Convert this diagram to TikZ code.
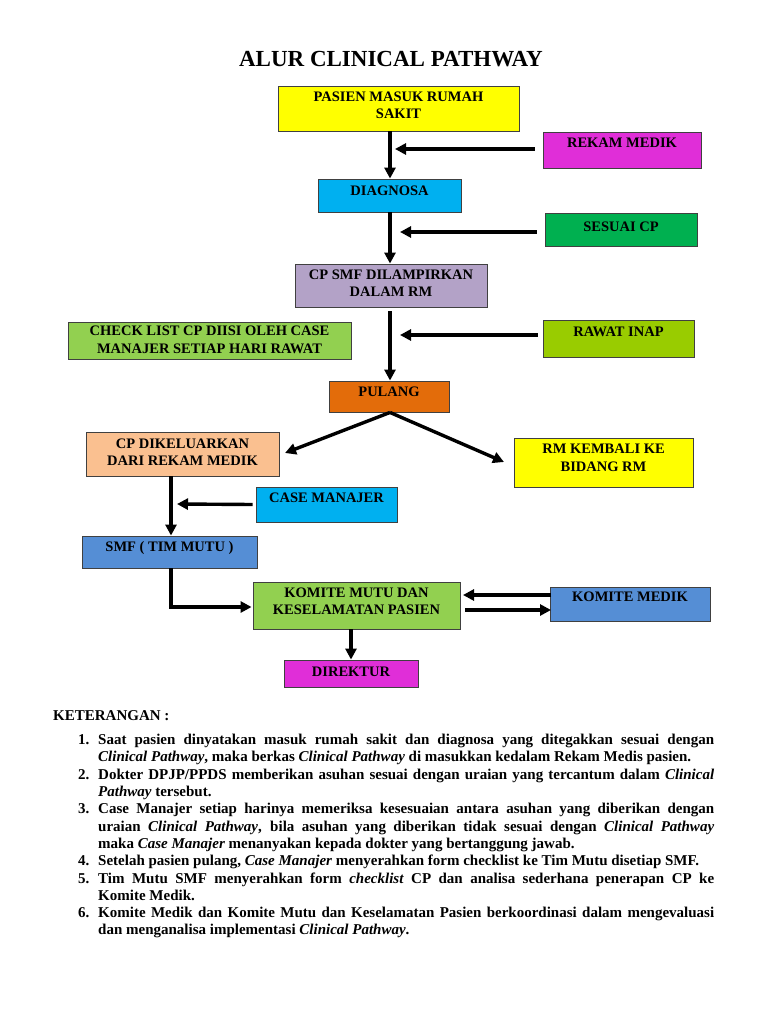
\documentclass[tikz,border=0pt]{standalone}
\usepackage{fontspec}
\setmainfont{Liberation Serif}
\usetikzlibrary{arrows.meta}
\definecolor{cyel}{HTML}{FFFF00}
\definecolor{cmag}{HTML}{E02ED8}
\definecolor{ccyan}{HTML}{00B0F0}
\definecolor{cgrn}{HTML}{00B050}
\definecolor{cpurp}{HTML}{B3A2C7}
\definecolor{clgrn}{HTML}{92D050}
\definecolor{cygrn}{HTML}{99CC00}
\definecolor{corng}{HTML}{E36C0A}
\definecolor{cpeach}{HTML}{FAC090}
\definecolor{cblu}{HTML}{558ED5}
\begin{document}
\begin{tikzpicture}[x=1pt,y=-1pt,
  box/.style={draw=black!75, line width=0.9pt, rectangle, inner sep=0pt},
  lbl/.style={font=\bfseries\fontsize{14.5}{17.5}\selectfont, align=center, inner sep=0pt},
  arr/.style={line width=3.4pt, -{Triangle[length=11pt,width=11pt]}}
]
\useasboundingbox (0,0) rectangle (768,1024);
\fill[white] (0,0) rectangle (768,1024);

\node[font=\bfseries\fontsize{23}{27}\selectfont, inner sep=0pt] (title) at (391,59) {ALUR CLINICAL PATHWAY};

% boxes
\node[box, fill=cyel, minimum width=241pt, minimum height=45pt] (pasien) at (398.5,108.5) {};
\node[lbl] (pasienT) at (398.5,105.5) {PASIEN MASUK RUMAH\\SAKIT};
\node[box, fill=cmag, minimum width=158pt, minimum height=36pt] (rekam) at (622,150) {};
\node[lbl] (rekamT) at (622,143) {REKAM MEDIK};
\node[box, fill=ccyan, minimum width=143pt, minimum height=33pt] (diag) at (389.5,195.5) {};
\node[lbl] (diagT) at (389.5,191) {DIAGNOSA};
\node[box, fill=cgrn, minimum width=152pt, minimum height=33pt] (sesuai) at (621,229.5) {};
\node[lbl] (sesuaiT) at (621,227) {SESUAI CP};
\node[box, fill=cpurp, minimum width=192pt, minimum height=43pt] (cpsmf) at (391,285.5) {};
\node[lbl] (cpsmfT) at (391,283) {CP SMF DILAMPIRKAN\\DALAM RM};
\node[box, fill=clgrn, minimum width=283pt, minimum height=37pt] (check) at (209.5,340.5) {};
\node[lbl] (checkT) at (209.5,340) {CHECK LIST CP DIISI OLEH CASE\\MANAJER SETIAP HARI RAWAT};
\node[box, fill=cygrn, minimum width=151pt, minimum height=37pt] (rawat) at (618.5,338.5) {};
\node[lbl] (rawatT) at (618.5,332) {RAWAT INAP};
\node[box, fill=corng, minimum width=120pt, minimum height=31pt] (pulang) at (389,396.5) {};
\node[lbl] (pulangT) at (389,392) {PULANG};
\node[box, fill=cpeach, minimum width=193pt, minimum height=44pt] (cpkel) at (182.5,454) {};
\node[lbl] (cpkelT) at (182.5,452) {CP DIKELUARKAN\\DARI REKAM MEDIK};
\node[box, fill=cyel, minimum width=179pt, minimum height=49pt] (rmkem) at (603.5,462.5) {};
\node[lbl] (rmkemT) at (603.5,458) {RM KEMBALI KE\\BIDANG RM};
\node[box, fill=ccyan, minimum width=141pt, minimum height=35pt] (casem) at (326.5,504.5) {};
\node[lbl] (casemT) at (326.5,498) {CASE MANAJER};
\node[box, fill=cblu, minimum width=175pt, minimum height=32pt] (smf) at (169.5,552) {};
\node[lbl] (smfT) at (169.5,548) {SMF ( TIM MUTU )};
\node[box, fill=clgrn, minimum width=207pt, minimum height=47pt] (komite) at (356.5,605.5) {};
\node[lbl] (komiteT) at (356.5,601.5) {KOMITE MUTU DAN\\KESELAMATAN PASIEN};
\node[box, fill=cblu, minimum width=160pt, minimum height=34pt] (medik) at (630,604) {};
\node[lbl] (medikT) at (630,597) {KOMITE MEDIK};
\node[box, fill=cmag, minimum width=134pt, minimum height=27pt] (direktur) at (351,673.5) {};
\node[lbl] (direkturT) at (351,672) {DIREKTUR};

% helper coordinates
\coordinate (xm) at (390,0);
\coordinate (xl) at (171,0);
\coordinate (e1) at (395,149);
\coordinate (e2) at (400,232);
\coordinate (e3) at (400,335);
\coordinate (e4) at (285,453);
\coordinate (e5) at (504,462);
\coordinate (e6) at (177,504);
\coordinate (e7) at (463,595);
\coordinate (e8) at (551,610);
\coordinate (s8) at (465,610);
\coordinate (s7) at (551,595);

% connectors
\draw[arr] (pasien.south -| xm) -- (diag.north -| xm);
\draw[arr] ([xshift=-8pt,yshift=1pt]rekam.west) -- (e1);
\draw[arr] (diag.south -| xm) -- (cpsmf.north -| xm);
\draw[arr] ([xshift=-8pt,yshift=-2.5pt]sesuai.west) -- (e2);
\draw[arr, shorten <=4pt] (cpsmf.south -| xm) -- (pulang.north -| xm);
\draw[arr] ([xshift=-5pt,yshift=3.5pt]rawat.west) -- (e3);
\draw[arr] (pulang.south -| xm) -- (e4);
\draw[arr] (pulang.south -| xm) -- (e5);
\draw[arr] (cpkel.south -| xl) -- (smf.north -| xl);
\draw[arr] ([xshift=-3pt]casem.west) -- (e6);
\draw[arr] (smf.south -| xl) |- ([xshift=-1pt,yshift=-1.5pt]komite.west);
\draw[arr] (s7) -- (e7);
\draw[arr] (s8) -- (e8);
\draw[arr] (komite.south -| direktur.north) -- (direktur.north);

% notes
\node[anchor=west, font=\bfseries\fontsize{15}{17.3}\selectfont, inner sep=0pt] (ket) at (53,716) {KETERANGAN :};
\node[anchor=north west, text width=636pt, align=justify, inner sep=0pt,
      font=\bfseries\fontsize{15}{17.3}\selectfont] (notes) at (78,734) {%
\parindent=0pt
\hangindent=20pt\hangafter=1\makebox[20pt][l]{1.}Saat pasien dinyatakan masuk rumah sakit dan diagnosa yang ditegakkan sesuai dengan\linebreak \textit{Clinical Pathway}, maka berkas \textit{Clinical Pathway} di masukkan kedalam Rekam Medis pasien.\par
\hangindent=20pt\hangafter=1\makebox[20pt][l]{2.}Dokter DPJP/PPDS memberikan asuhan sesuai dengan uraian yang tercantum dalam \textit{Clinical}\linebreak \textit{Pathway} tersebut.\par
\hangindent=20pt\hangafter=1\makebox[20pt][l]{3.}Case Manajer setiap harinya memeriksa kesesuaian antara asuhan yang diberikan dengan\linebreak uraian \textit{Clinical Pathway}, bila asuhan yang diberikan tidak sesuai dengan \textit{Clinical Pathway}\linebreak maka \textit{Case Manajer} menanyakan kepada dokter yang bertanggung jawab.\par
\hangindent=20pt\hangafter=1\makebox[20pt][l]{4.}Setelah pasien pulang, \textit{Case Manajer} menyerahkan form checklist ke Tim Mutu disetiap SMF.\par
\hangindent=20pt\hangafter=1\makebox[20pt][l]{5.}Tim Mutu SMF menyerahkan form \textit{checklist} CP dan analisa sederhana penerapan CP ke\linebreak Komite Medik.\par
\hangindent=20pt\hangafter=1\makebox[20pt][l]{6.}Komite Medik dan Komite Mutu dan Keselamatan Pasien berkoordinasi dalam mengevaluasi\linebreak dan menganalisa implementasi \textit{Clinical Pathway}.\par};
\end{tikzpicture}
\end{document}
